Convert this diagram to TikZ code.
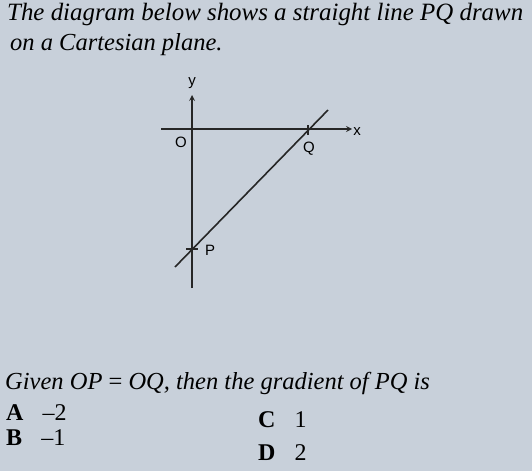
\documentclass[tikz,border=0pt]{standalone}
\usepackage{fontspec}
\setmainfont{Liberation Serif}
\setsansfont{Liberation Sans}
\begin{document}
\begin{tikzpicture}[x=1pt,y=-1pt,
  axis/.style={line width=1.6pt,black!85},
  txt/.style={anchor=west,inner sep=0pt,font=\fontsize{24.5}{28}\selectfont\itshape},
  lbl/.style={inner sep=0pt,font=\sffamily\fontsize{15}{17}\selectfont},
  opt/.style={anchor=west,inner sep=0pt,font=\fontsize{24}{28}\selectfont}]
\fill[fill={rgb,255:red,200;green,208;blue,218}] (0,0) rectangle (532,471);
\useasboundingbox (0,0) rectangle (532,471);
% text
\node[txt,font=\fontsize{24.9}{28}\selectfont\itshape] (t1) at (7,15) {The diagram below shows a straight line \textit{PQ} drawn};
\node[txt] (t2) at (10,45) {on a Cartesian plane.};
% axes
\coordinate (O) at (192,129);
\coordinate (yb) at (192,288);
\coordinate (yt) at (192,95);
\coordinate (xl) at (161,129);
\coordinate (xr) at (352,129);
\coordinate (Q) at (308,129);
\coordinate (P) at (192,249);
\coordinate (la) at (175,267);
\coordinate (lb) at (328,110);
\draw[axis,-stealth] (yb) -- (yt);
\draw[axis,-stealth] (xl) -- (xr);
\draw[axis] (la) -- (lb);
\draw[axis] ([yshift=-6]Q) -- ([yshift=4]Q);
\draw[axis] ([xshift=-6]P) -- ([xshift=6]P);
\node[lbl] (ly) at (192,83) {y};
\node[lbl] (lx) at (357,132) {x};
\node[lbl] (lo) at (181,142) {O};
\node[lbl] (lq) at (309,149) {Q};
\node[lbl] (lp) at (210,250) {P};
% question
\node[txt] (q) at (5,383) {Given \textit{OP} {\upshape =} \textit{OQ}, then the gradient of \textit{PQ} is};
\node[opt] (a) at (6,413) {\textbf{A}\hspace{0.8em}–2};
\node[opt] (b) at (6,438) {\textbf{B}\hspace{0.8em}–1};
\node[opt] (c) at (258,420) {\textbf{C}\hspace{0.8em}1};
\node[opt] (d) at (258,453) {\textbf{D}\hspace{0.8em}2};
\end{tikzpicture}
\end{document}
